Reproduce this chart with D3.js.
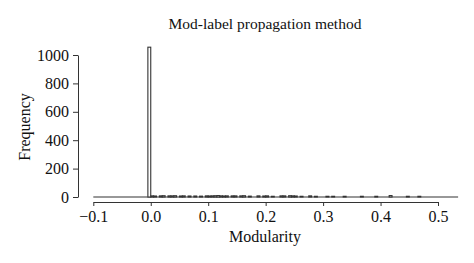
<!DOCTYPE html>
<html>
<head>
<meta charset="utf-8">
<script src="https://cdn.jsdelivr.net/npm/d3@7"></script>
<style>
  body { margin: 0; background: #fff; }
  text { font-family: "Liberation Serif", "DejaVu Serif", serif; fill: #111; }
</style>
</head>
<body>
<div id="chart"></div>
<script>
var title = "Mod-label propagation method";
var xLabel = "Modularity";
var yLabel = "Frequency";
var xTicks = [-0.1, 0.0, 0.1, 0.2, 0.3, 0.4, 0.5];
var yTicks = [0, 200, 400, 600, 800, 1000];

// histogram bins, width 0.005, starting at the left edge below
var binStart = -0.005;
var binWidth = 0.005;
var counts = [
  1055,
  8, 7, 0, 8, 9, 0, 8, 8, 9, 0,
  7, 8, 0, 7, 0, 7, 0, 6, 0, 8,
  7, 8, 9, 10, 8, 7, 8, 0, 8, 8,
  0, 8, 9, 0, 6, 0, 0, 8, 0, 7,
  8, 0, 5, 0, 0, 8, 8, 0, 9, 8,
  7, 0, 5, 0, 0, 8, 0, 5, 0, 0,
  0, 5, 0, 5, 0, 0, 0, 5, 0, 0,
  0, 0, 0, 5, 0, 0, 0, 0, 5, 0,
  0, 0, 0, 10, 0, 0, 0, 0, 0, 5,
  0, 0, 0, 5, 0
];

var width = 474, height = 263;
var svg = d3.select("#chart").append("svg")
    .attr("width", width)
    .attr("height", height);

var x = d3.scaleLinear().domain([-0.1, 0.5]).range([93.3, 438]);
var y = d3.scaleLinear().domain([0, 1000]).range([197, 55]);

// baseline at y = 0
svg.append("line")
    .attr("x1", x(-0.1)).attr("x2", x(0.535))
    .attr("y1", y(0)).attr("y2", y(0))
    .attr("stroke", "#333").attr("stroke-width", 1.2);

var bins = counts.map(function(c, i) { return { x0: binStart + i * binWidth, c: c }; })
    .filter(function(d) { return d.c > 0; });

svg.selectAll(".bin")
    .data(bins)
    .enter().append("rect")
    .attr("class", "bin")
    .attr("x", function(d) { return x(d.x0); })
    .attr("width", function(d) { return x(d.x0 + binWidth) - x(d.x0); })
    .attr("y", function(d) { return y(d.c); })
    .attr("height", function(d) { return y(0) - y(d.c); })
    .attr("fill", "#fff")
    .attr("stroke", "#333")
    .attr("stroke-width", 1.1);

// y axis
var yAxis = svg.append("g")
    .attr("transform", "translate(78,0)")
    .call(d3.axisLeft(y).tickValues(yTicks).tickSize(5).tickSizeOuter(0).tickPadding(4)
      .tickFormat(d3.format("d")));
yAxis.selectAll("text").style("font-size", "16px").attr("font-family", null);
yAxis.selectAll("line, path").attr("stroke", "#333");

// x axis
var xAxis = svg.append("g")
    .attr("transform", "translate(0,202)")
    .call(d3.axisBottom(x).tickValues(xTicks).tickSize(4).tickSizeOuter(0).tickPadding(5)
      .tickFormat(function(d) { return d3.format(".1f")(d).replace("-", "\u2212"); }));
xAxis.selectAll("text").style("font-size", "16px").attr("font-family", null);
xAxis.selectAll("line, path").attr("stroke", "#333");

svg.append("text")
    .attr("x", 265).attr("y", 29)
    .attr("text-anchor", "middle")
    .style("font-size", "15.5px")
    .text(title);

svg.append("text")
    .attr("x", 265).attr("y", 242)
    .attr("text-anchor", "middle")
    .style("font-size", "16px")
    .text(xLabel);

svg.append("text")
    .attr("transform", "translate(30,127) rotate(-90)")
    .attr("text-anchor", "middle")
    .style("font-size", "16px")
    .text(yLabel);
</script>
</body>
</html>
